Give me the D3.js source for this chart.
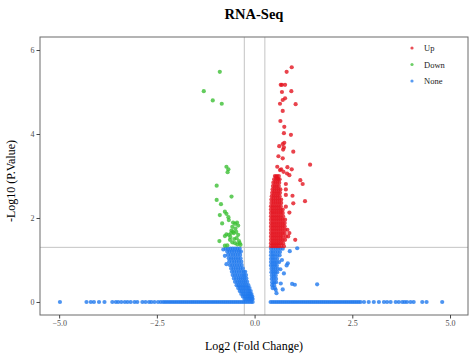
<!DOCTYPE html>
<html><head><meta charset="utf-8">
<script src="https://cdn.jsdelivr.net/npm/d3@7"></script>
<style>body{margin:0;background:#fff}svg{display:block}</style>
</head><body>
<script>
// ---- data ----
const xTicks = [-5, -2.5, 0, 2.5, 5];
const yTicks = [0, 2, 4, 6];
const fcCut = 0.263, pCut = 1.301;
const groups = ["Up", "Down", "None"];
const colors = ["#e3141f", "#3cbf34", "#2079ee"];

// None: points on the baseline (-log10 p = 0), listed by x
const noneBaseX = [-4.98,-4.30,-4.19,-4.11,-3.98,-3.84,-3.64,-3.55,-3.49,-3.41,-3.32,-3.25,-3.17,-3.07,-3.00,-2.87,-2.79,-2.70,-2.64,-2.56,-2.47,-2.40,-2.34,
 -2.29,-2.24,-2.19,-2.14,-2.09,-2.04,-1.99,-1.94,-1.89,-1.84,-1.79,-1.74,-1.69,-1.64,-1.59,-1.54,-1.49,-1.44,-1.39,-1.34,-1.29,-1.24,-1.19,-1.14,-1.09,-1.04,-0.99,-0.94,-0.89,-0.84,-0.79,-0.74,-0.69,-0.64,-0.59,-0.54,-0.49,-0.44,-0.39,-0.34,-0.29,-0.24,-0.19,-0.14,-0.09,-0.05,
 0.41,0.46,0.51,0.56,0.61,0.66,0.71,0.76,0.81,0.86,0.91,0.96,1.01,1.06,1.11,1.16,1.21,1.26,1.31,1.36,1.41,1.46,1.51,1.56,1.61,1.66,1.71,1.76,1.81,1.86,1.91,1.96,2.01,2.06,2.11,2.16,2.21,2.26,2.31,2.36,2.41,2.46,2.51,2.56,2.61,2.66,2.71,
 2.80,2.92,3.05,3.18,3.31,3.39,3.48,3.61,3.69,3.78,3.84,3.90,3.99,4.07,4.29,4.40,4.80];

// None: points above the baseline [log2FC, -log10 p]
const nonePts = [
 [-0.80,1.25],[-0.74,1.27],[-0.68,1.27],[-0.62,1.27],[-0.56,1.27],[-0.50,1.27],[-0.44,1.27],[-0.38,1.27],
 [-0.70,1.20],[-0.64,1.20],[-0.58,1.20],[-0.52,1.20],[-0.46,1.20],[-0.40,1.20],[-0.35,1.20],
 [-0.76,1.10],[-0.68,1.12],[-0.61,1.12],[-0.55,1.12],[-0.49,1.12],[-0.43,1.12],[-0.37,1.12],
 [-0.66,1.04],[-0.60,1.04],[-0.54,1.04],[-0.48,1.04],[-0.42,1.04],[-0.36,1.04],
 [-0.65,0.96],[-0.58,0.96],[-0.52,0.96],[-0.46,0.96],[-0.40,0.96],[-0.34,0.96],
 [-0.72,0.90],[-0.63,0.88],[-0.57,0.88],[-0.51,0.88],[-0.45,0.88],[-0.39,0.88],[-0.33,0.88],
 [-0.60,0.80],[-0.54,0.80],[-0.48,0.80],[-0.42,0.80],[-0.36,0.80],[-0.30,0.80],
 [-0.58,0.72],[-0.52,0.72],[-0.46,0.72],[-0.40,0.72],[-0.34,0.72],[-0.28,0.72],[-0.24,0.72],
 [-0.56,0.64],[-0.50,0.64],[-0.44,0.64],[-0.38,0.64],[-0.32,0.64],[-0.27,0.64],[-0.22,0.64],
 [-0.53,0.56],[-0.47,0.56],[-0.41,0.56],[-0.36,0.56],[-0.31,0.56],[-0.26,0.56],[-0.21,0.56],
 [-0.50,0.48],[-0.44,0.48],[-0.39,0.48],[-0.34,0.48],[-0.29,0.48],[-0.24,0.48],[-0.19,0.48],
 [-0.46,0.40],[-0.41,0.40],[-0.36,0.40],[-0.31,0.40],[-0.26,0.40],[-0.21,0.40],[-0.16,0.40],
 [-0.42,0.33],[-0.37,0.33],[-0.32,0.33],[-0.27,0.33],[-0.22,0.33],[-0.17,0.33],[-0.13,0.33],
 [-0.38,0.26],[-0.33,0.26],[-0.28,0.26],[-0.23,0.26],[-0.18,0.26],[-0.14,0.26],[-0.10,0.26],
 [-0.34,0.19],[-0.29,0.19],[-0.24,0.19],[-0.19,0.19],[-0.15,0.19],[-0.11,0.19],[-0.08,0.19],
 [-0.30,0.13],[-0.25,0.13],[-0.20,0.13],[-0.16,0.13],[-0.12,0.13],[-0.09,0.13],[-0.06,0.13],
 [-0.26,0.07],[-0.21,0.07],[-0.17,0.07],[-0.13,0.07],[-0.10,0.07],[-0.07,0.07],[-0.05,0.07],
 [0.42,1.27],[0.48,1.27],[0.54,1.27],[0.60,1.27],[0.66,1.27],[0.72,1.27],
 [0.42,1.19],[0.47,1.19],[0.53,1.19],[0.59,1.19],[0.65,1.19],
 [0.42,1.11],[0.47,1.11],[0.52,1.11],[0.58,1.11],[0.64,1.11],
 [0.42,1.03],[0.47,1.03],[0.52,1.03],[0.58,1.03],
 [0.42,0.95],[0.47,0.95],[0.52,0.95],[0.57,0.95],[0.63,0.95],
 [0.42,0.87],[0.47,0.87],[0.52,0.87],[0.57,0.87],
 [0.43,0.79],[0.48,0.79],[0.53,0.79],[0.59,0.79],
 [0.43,0.71],[0.48,0.71],[0.53,0.71],[0.58,0.71],
 [0.44,0.63],[0.49,0.63],[0.54,0.63],
 [0.44,0.55],[0.49,0.55],[0.55,0.55],
 [0.45,0.47],[0.50,0.47],[0.55,0.47],
 [0.45,0.40],[0.50,0.40],[0.46,0.33],[0.52,0.33],
 [0.90,1.21],[1.09,1.28],[0.85,0.92],[0.82,0.87],[0.75,0.68],[0.67,0.44],[0.54,0.29],[0.72,0.30],
 [0.96,0.43],[1.03,0.41],[1.60,0.42],[0.56,0.21],[0.70,1.00],[0.66,0.78]
];

// Down: significant, log2FC < -cut
const downPts = [
 [-0.89,5.48],[-1.30,5.02],[-1.07,4.80],[-0.84,4.72],[-0.72,3.22],[-0.67,3.16],[-0.69,3.09],[-0.97,2.77],
 [-0.97,2.43],[-0.59,2.51],[-0.86,2.33],[-0.76,2.15],[-0.72,2.10],[-0.89,2.07],[-0.67,2.02],[-0.66,1.95],
 [-0.83,1.87],[-0.55,1.89],[-0.50,1.86],[-0.45,1.89],[-0.42,1.82],[-0.57,1.79],[-0.49,1.75],[-0.59,1.70],
 [-0.72,1.61],[-0.66,1.60],[-0.60,1.64],[-0.55,1.67],[-0.53,1.64],[-0.47,1.67],[-0.42,1.60],[-0.90,1.45],
 [-0.76,1.57],[-0.63,1.48],[-0.57,1.42],[-0.50,1.40],[-0.44,1.37],[-0.38,1.40],[-0.76,1.34],[-0.70,1.35],
 [-0.40,1.45],[-0.36,1.36],[-0.52,1.50],[-0.46,1.52],[-0.62,1.55]
];

// Up: significant, log2FC > cut
const upPts = [
 [0.95,5.59],[0.82,5.48],[0.67,5.17],[0.70,5.17],[0.78,5.17],[0.70,5.00],[0.94,5.02],[0.78,4.85],[0.72,4.81],
 [0.65,4.72],[1.05,4.71],[0.72,4.55],[0.66,4.31],[0.76,4.17],[0.75,4.02],[0.93,3.98],[0.76,3.79],[0.72,3.76],
 [0.63,3.71],[0.73,3.63],[0.75,3.68],[0.99,3.58],[0.61,3.47],[0.72,3.42],[1.42,3.27],[0.58,3.22],[0.65,3.14],
 [0.68,3.16],[0.84,3.21],[0.95,3.16],[0.55,2.98],[0.59,2.94],[0.83,3.06],[0.89,3.02],[0.74,3.10],[1.17,2.90],
 [1.23,2.81],[0.80,2.81],[0.80,2.68],[0.80,2.55],[0.97,2.53],[1.29,2.40],[0.99,2.35],[0.80,2.27],[0.89,2.13],
 [1.04,1.48],[0.89,1.64],
 [0.52,3.00],[0.57,3.00],[0.62,3.00],
 [0.50,2.92],[0.55,2.92],[0.60,2.92],[0.64,2.92],
 [0.48,2.84],[0.53,2.84],[0.58,2.84],[0.63,2.84],
 [0.47,2.76],[0.52,2.76],[0.57,2.76],[0.62,2.76],
 [0.46,2.68],[0.51,2.68],[0.56,2.68],[0.61,2.68],[0.66,2.68],
 [0.45,2.60],[0.50,2.60],[0.55,2.60],[0.60,2.60],[0.65,2.60],
 [0.44,2.52],[0.49,2.52],[0.54,2.52],[0.59,2.52],[0.64,2.52],
 [0.43,2.44],[0.48,2.44],[0.53,2.44],[0.58,2.44],[0.63,2.44],[0.68,2.44],
 [0.43,2.36],[0.48,2.36],[0.53,2.36],[0.58,2.36],[0.63,2.36],[0.68,2.36],
 [0.42,2.28],[0.47,2.28],[0.52,2.28],[0.57,2.28],[0.62,2.28],[0.67,2.28],
 [0.42,2.20],[0.47,2.20],[0.52,2.20],[0.57,2.20],[0.62,2.20],[0.67,2.20],[0.72,2.20],
 [0.42,2.12],[0.47,2.12],[0.52,2.12],[0.57,2.12],[0.62,2.12],[0.67,2.12],[0.72,2.12],
 [0.42,2.04],[0.47,2.04],[0.52,2.04],[0.57,2.04],[0.62,2.04],[0.67,2.04],[0.73,2.04],
 [0.42,1.96],[0.47,1.96],[0.52,1.96],[0.57,1.96],[0.62,1.96],[0.67,1.96],[0.72,1.96],[0.78,1.96],
 [0.42,1.88],[0.47,1.88],[0.52,1.88],[0.57,1.88],[0.62,1.88],[0.67,1.88],[0.72,1.88],[0.77,1.88],
 [0.42,1.80],[0.47,1.80],[0.52,1.80],[0.57,1.80],[0.62,1.80],[0.67,1.80],[0.72,1.80],[0.77,1.80],
 [0.42,1.72],[0.47,1.72],[0.52,1.72],[0.57,1.72],[0.62,1.72],[0.67,1.72],[0.72,1.72],[0.78,1.72],[0.84,1.72],
 [0.42,1.64],[0.47,1.64],[0.52,1.64],[0.57,1.64],[0.62,1.64],[0.67,1.64],[0.72,1.64],[0.77,1.64],
 [0.42,1.56],[0.47,1.56],[0.52,1.56],[0.57,1.56],[0.62,1.56],[0.67,1.56],[0.72,1.56],[0.80,1.56],[0.86,1.56],
 [0.42,1.48],[0.47,1.48],[0.52,1.48],[0.57,1.48],[0.62,1.48],[0.67,1.48],[0.72,1.48],[0.78,1.48],
 [0.42,1.40],[0.47,1.40],[0.52,1.40],[0.57,1.40],[0.62,1.40],[0.67,1.40],[0.73,1.40],
 [0.42,1.33],[0.47,1.33],[0.52,1.33],[0.57,1.33],[0.62,1.33],[0.68,1.33],[0.75,1.33]
];

// ---- drawing ----
const W = 474, H = 358;
const L = 40, R = 468, T = 37, B = 315;
const svg = d3.select("body").append("svg").attr("width", W).attr("height", H);
const serif = "'Liberation Serif','Times New Roman',serif";

const x = d3.scaleLinear().domain([-5.49, 5.46]).range([L, R]);
const y = d3.scaleLinear().domain([-0.31, 6.31]).range([B, T]);

// reference lines
const gl = svg.append("g").attr("stroke", "#c4c4c4").attr("stroke-width", 1);
[-fcCut, fcCut].forEach(v => gl.append("line").attr("x1", x(v)).attr("x2", x(v)).attr("y1", T).attr("y2", B));
gl.append("line").attr("x1", L).attr("x2", R).attr("y1", y(pCut)).attr("y2", y(pCut));

// points
const clip = svg.append("clipPath").attr("id", "c").append("rect").attr("x", L).attr("y", T).attr("width", R - L).attr("height", B - T);
const gp = svg.append("g").attr("clip-path", "url(#c)");
const noneAll = noneBaseX.map(v => [v, 0]).concat(nonePts);
const sets = [[noneAll, colors[2]], [downPts, colors[1]], [upPts, colors[0]]];
sets.forEach(([data, col]) => {
  gp.append("g").selectAll("circle").data(data).join("circle")
    .attr("cx", d => x(d[0])).attr("cy", d => y(d[1])).attr("r", 2.1)
    .attr("fill", col).attr("fill-opacity", 0.8);
});

// panel border
svg.append("rect").attr("x", L).attr("y", T).attr("width", R - L).attr("height", B - T)
  .attr("fill", "none").attr("stroke", "#6b6b6b").attr("stroke-width", 1);

// axes
const xa = svg.append("g").attr("transform", `translate(0,${B})`)
  .call(d3.axisBottom(x).tickValues(xTicks).tickFormat(d3.format(".1f")).tickSize(3.5).tickPadding(2));
const ya = svg.append("g").attr("transform", `translate(${L},0)`)
  .call(d3.axisLeft(y).tickValues(yTicks).tickFormat(d3.format("d")).tickSize(3.5).tickPadding(2));
[xa, ya].forEach(a => {
  a.select(".domain").remove();
  a.selectAll(".tick line").attr("stroke", "#444");
  a.selectAll(".tick text").attr("fill", "#4d4d4d").style("font-family", serif).style("font-size", "8px");
});

// title and labels
svg.append("text").attr("x", 254).attr("y", 19).attr("text-anchor", "middle")
  .style("font-family", serif).style("font-size", "14.5px").style("font-weight", "bold").text("RNA-Seq");
svg.append("text").attr("x", 254).attr("y", 350).attr("text-anchor", "middle")
  .style("font-family", serif).style("font-size", "12px").text("Log2 (Fold Change)");
svg.append("text").attr("transform", "translate(15,181) rotate(-90)").attr("text-anchor", "middle")
  .style("font-family", serif).style("font-size", "12px").text("-Log10 (P.Value)");

// legend
const lg = svg.append("g");
groups.forEach((g, i) => {
  const yy = 48 + i * 16.5;
  lg.append("circle").attr("cx", 412).attr("cy", yy).attr("r", 1.6).attr("fill", colors[i]).attr("fill-opacity", 0.75);
  lg.append("text").attr("x", 424).attr("y", yy + 3).style("font-family", serif).style("font-size", "8.5px")
    .attr("fill", "#222").text(g);
});
</script>
</body></html>
